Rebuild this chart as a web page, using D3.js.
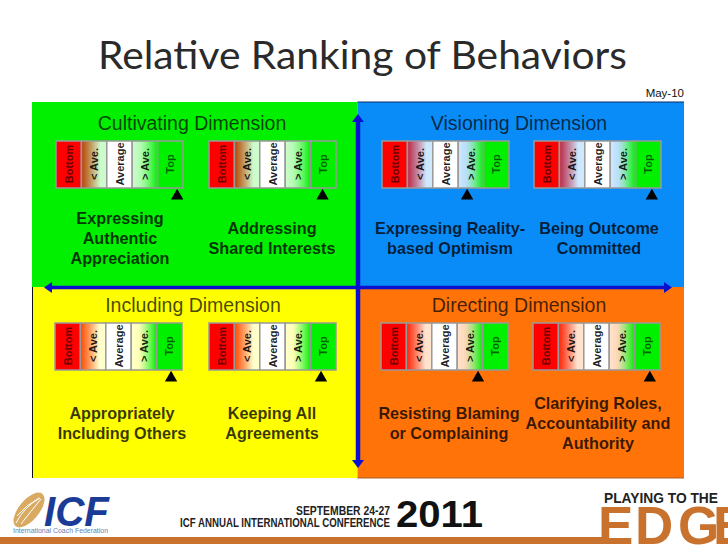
<!DOCTYPE html>
<html>
<head>
<meta charset="utf-8">
<script src="https://cdn.jsdelivr.net/npm/d3@7"></script>
<style>
  html, body { margin: 0; padding: 0; background: #fff; }
  svg { display: block; }
  text { font-family: "Liberation Sans", sans-serif; }
</style>
</head>
<body>
<div id="chart"></div>
<script>
// chart values
var dimensions = ["Cultivating Dimension", "Visioning Dimension", "Including Dimension", "Directing Dimension"];
var rankLabels = ["Bottom", "< Ave.", "Average", "> Ave.", "Top"];
var behaviors = [
  ["Expressing|Authentic|Appreciation", "Addressing|Shared Interests"],
  ["Expressing Reality-|based Optimism", "Being Outcome|Committed"],
  ["Appropriately|Including Others", "Keeping All|Agreements"],
  ["Resisting Blaming|or Complaining", "Clarifying Roles,|Accountability and|Authority"]
];
// where the triangle sits, 0 = left end of Bottom, 5 = right end of Top
var rankValues = [
  [4.77, 4.47],
  [3.35, 4.64],
  [4.57, 4.41],
  [3.82, 4.60]
];

// layout
var svgWidth = 728, svgHeight = 546;
var frame = { left: 32, right: 684, top: 102, bottom: 478, midX: 357.5, midY: 287 };
var quadColors = ["#00f000", "#0a8cf8", "#ffff00", "#ff7308"];
var titlePos = [[192, 130], [519, 130], [193, 312], [519, 312]];
var gaugeX = [[56, 209], [382, 534], [55, 209], [381, 533]];
var gaugeY = [141, 141, 323, 323];
var gaugeW = 127, gaugeH = 47;
var labelX = [[120, 272], [450, 599], [122, 272], [449, 598]];
var labelY = [[224, 234], [234, 234], [419, 419], [419, 409]];
var lineGap = 20;

var svg = d3.select("#chart").append("svg")
  .attr("width", svgWidth)
  .attr("height", svgHeight);

var defs = svg.append("defs");

var lowGrad = defs.append("linearGradient").attr("id", "lowGrad");
lowGrad.append("stop").attr("offset", "0%").attr("stop-color", "#f00").attr("stop-opacity", 0.72);
lowGrad.append("stop").attr("offset", "75%").attr("stop-color", "#fff").attr("stop-opacity", 0.8);
lowGrad.append("stop").attr("offset", "100%").attr("stop-color", "#fff").attr("stop-opacity", 0.8);

var highGrad = defs.append("linearGradient").attr("id", "highGrad");
highGrad.append("stop").attr("offset", "0%").attr("stop-color", "#fff").attr("stop-opacity", 0.8);
highGrad.append("stop").attr("offset", "30%").attr("stop-color", "#fff").attr("stop-opacity", 0.72);
highGrad.append("stop").attr("offset", "100%").attr("stop-color", "#00f000").attr("stop-opacity", 1);

// squeezed or stretched text, fit to a measured width
function fitText(x, y, width, size, weight, color, str) {
  return svg.append("text")
    .attr("x", x).attr("y", y)
    .attr("textLength", width)
    .attr("lengthAdjust", "spacingAndGlyphs")
    .style("font-size", size + "px")
    .style("font-weight", weight)
    .attr("fill", color)
    .text(str);
}

// title
fitText(98, 69, 529, 38, "normal", "#2a2a2a", "Relative Ranking of Behaviors")
  .style("font-family", "Lato");

svg.append("text")
  .attr("x", 684).attr("y", 97)
  .attr("text-anchor", "end")
  .style("font-size", "11.5px")
  .attr("fill", "#111")
  .text("May-10");

// quadrant backgrounds
var quadX = [frame.left, frame.midX, frame.left, frame.midX];
var quadY = [frame.top, frame.top, frame.midY, frame.midY];
svg.selectAll(".quad")
  .data(dimensions)
  .enter().append("rect")
  .attr("class", "quad")
  .attr("x", (d, i) => quadX[i])
  .attr("y", (d, i) => quadY[i])
  .attr("width", (d, i) => (i % 2 ? frame.right - frame.midX : frame.midX - frame.left))
  .attr("height", (d, i) => (i < 2 ? frame.midY - frame.top : frame.bottom - frame.midY))
  .attr("fill", (d, i) => quadColors[i]);

// thin edges
svg.append("line").attr("x1", frame.left + 0.5).attr("x2", frame.left + 0.5)
  .attr("y1", frame.midY).attr("y2", frame.bottom).attr("stroke", "#111");
svg.append("line").attr("x1", frame.midX).attr("x2", frame.right)
  .attr("y1", frame.top).attr("y2", frame.top).attr("stroke", "#0a2a66");
svg.append("line").attr("x1", frame.midX).attr("x2", frame.right)
  .attr("y1", frame.bottom).attr("y2", frame.bottom).attr("stroke", "#a8602a");

dimensions.forEach(function(name, q) {
  svg.append("text")
    .attr("x", titlePos[q][0]).attr("y", titlePos[q][1])
    .attr("text-anchor", "middle")
    .style("font-size", "19.5px")
    .attr("fill", "#000").attr("fill-opacity", 0.72)
    .text(name);

  behaviors[q].forEach(function(label, g) {
    var x = d3.scaleBand().domain(rankLabels).range([gaugeX[q][g], gaugeX[q][g] + gaugeW]);
    var markerX = d3.scaleLinear().domain([0, 5]).range([gaugeX[q][g], gaugeX[q][g] + gaugeW]);
    var top = gaugeY[q];
    var gauge = svg.append("g");

    gauge.selectAll("rect")
      .data(rankLabels)
      .enter().append("rect")
      .attr("x", d => x(d))
      .attr("y", top)
      .attr("width", x.bandwidth())
      .attr("height", gaugeH)
      .attr("fill", function(d, i) {
        return i == 0 ? "#f00" : i == 1 ? "url(#lowGrad)" : i == 2 ? "#fff" : i == 3 ? "url(#highGrad)" : "#00f000";
      })
      .attr("stroke", "#999")
      .attr("stroke-width", 1.5);

    gauge.selectAll("text")
      .data(rankLabels)
      .enter().append("text")
      .attr("transform", d => `translate(${x(d) + x.bandwidth() / 2 + 4}, ${top + 23}) rotate(-90)`)
      .attr("text-anchor", "middle")
      .style("font-size", "11px")
      .style("font-weight", "bold")
      .attr("fill", "#000")
      .attr("fill-opacity", (d, i) => (i == 0 || i == 4 ? 0.6 : 0.88))
      .text(d => d);

    gauge.append("path")
      .attr("d", d3.symbol(d3.symbolTriangle, 66))
      .attr("transform", `translate(${markerX(rankValues[q][g])}, ${top + gaugeH + 8})`)
      .attr("fill", "#000");

    var lines = label.split("|");
    svg.selectAll(null)
      .data(lines)
      .enter().append("text")
      .attr("x", labelX[q][g])
      .attr("y", (d, i) => labelY[q][g] + i * lineGap)
      .attr("text-anchor", "middle")
      .style("font-size", "16.2px")
      .style("font-weight", "bold")
      .attr("fill", "#000").attr("fill-opacity", 0.78)
      .text(d => d);
  });
});

// axis arrows
var arrowColor = "#0a10d0";
var lineGen = d3.line();
svg.append("path")
  .attr("d", lineGen([[52, frame.midY + 0.5], [664, frame.midY + 0.5]]))
  .attr("stroke", arrowColor).attr("stroke-width", 3.5);
svg.append("path")
  .attr("d", lineGen([[358, 122], [358, 460]]))
  .attr("stroke", arrowColor).attr("stroke-width", 4.5);
var arrowHeads = [
  [[44, 287.5], [52, 282], [52, 293]],
  [[672, 287.5], [664, 282], [664, 293]],
  [[358, 114], [352, 122], [364, 122]],
  [[358, 468], [352, 460], [364, 460]]
];
svg.selectAll(".head")
  .data(arrowHeads)
  .enter().append("path")
  .attr("class", "head")
  .attr("d", d => lineGen(d) + "Z")
  .attr("fill", arrowColor);

// footer band
var footerOrange = "#c9722e";
svg.append("rect").attr("x", 0).attr("y", 537).attr("width", 605).attr("height", 7).attr("fill", footerOrange);

// ICF mark
var gold = "#d9aa62";
svg.append("ellipse")
  .attr("cx", 29).attr("cy", 510).attr("rx", 21).attr("ry", 10)
  .attr("transform", "rotate(-50 29 510)")
  .attr("fill", gold);
var streaks = svg.append("g").attr("fill", "none").attr("stroke", "#fff").attr("stroke-width", 1);
streaks.append("path").attr("d", "M16 523 Q24 507 40 498");
streaks.append("path").attr("d", "M17 516 Q26 505 39 498");
streaks.append("path").attr("d", "M21 524 Q31 511 41 499");

fitText(44, 526, 65, 43, "bold", "#1b3c96", "ICF").style("font-style", "italic");
fitText(13, 533, 95, 8, "normal", "#5f82b4", "International Coach Federation");

// conference text
fitText(296, 515, 94, 12, "bold", "#222", "SEPTEMBER 24-27");
fitText(180, 527, 210, 12, "bold", "#222", "ICF ANNUAL INTERNATIONAL CONFERENCE");
fitText(396, 527, 87, 37, "bold", "#111", "2011");

// edge logo
fitText(604, 503, 114, 15.5, "bold", "#222", "PLAYING TO THE");
svg.append("text")
  .attr("x", "598 635 678 713").attr("y", 544)
  .style("font-size", "53px")
  .style("font-weight", "bold")
  .attr("fill", footerOrange)
  .text("EDGE");
</script>
</body>
</html>
